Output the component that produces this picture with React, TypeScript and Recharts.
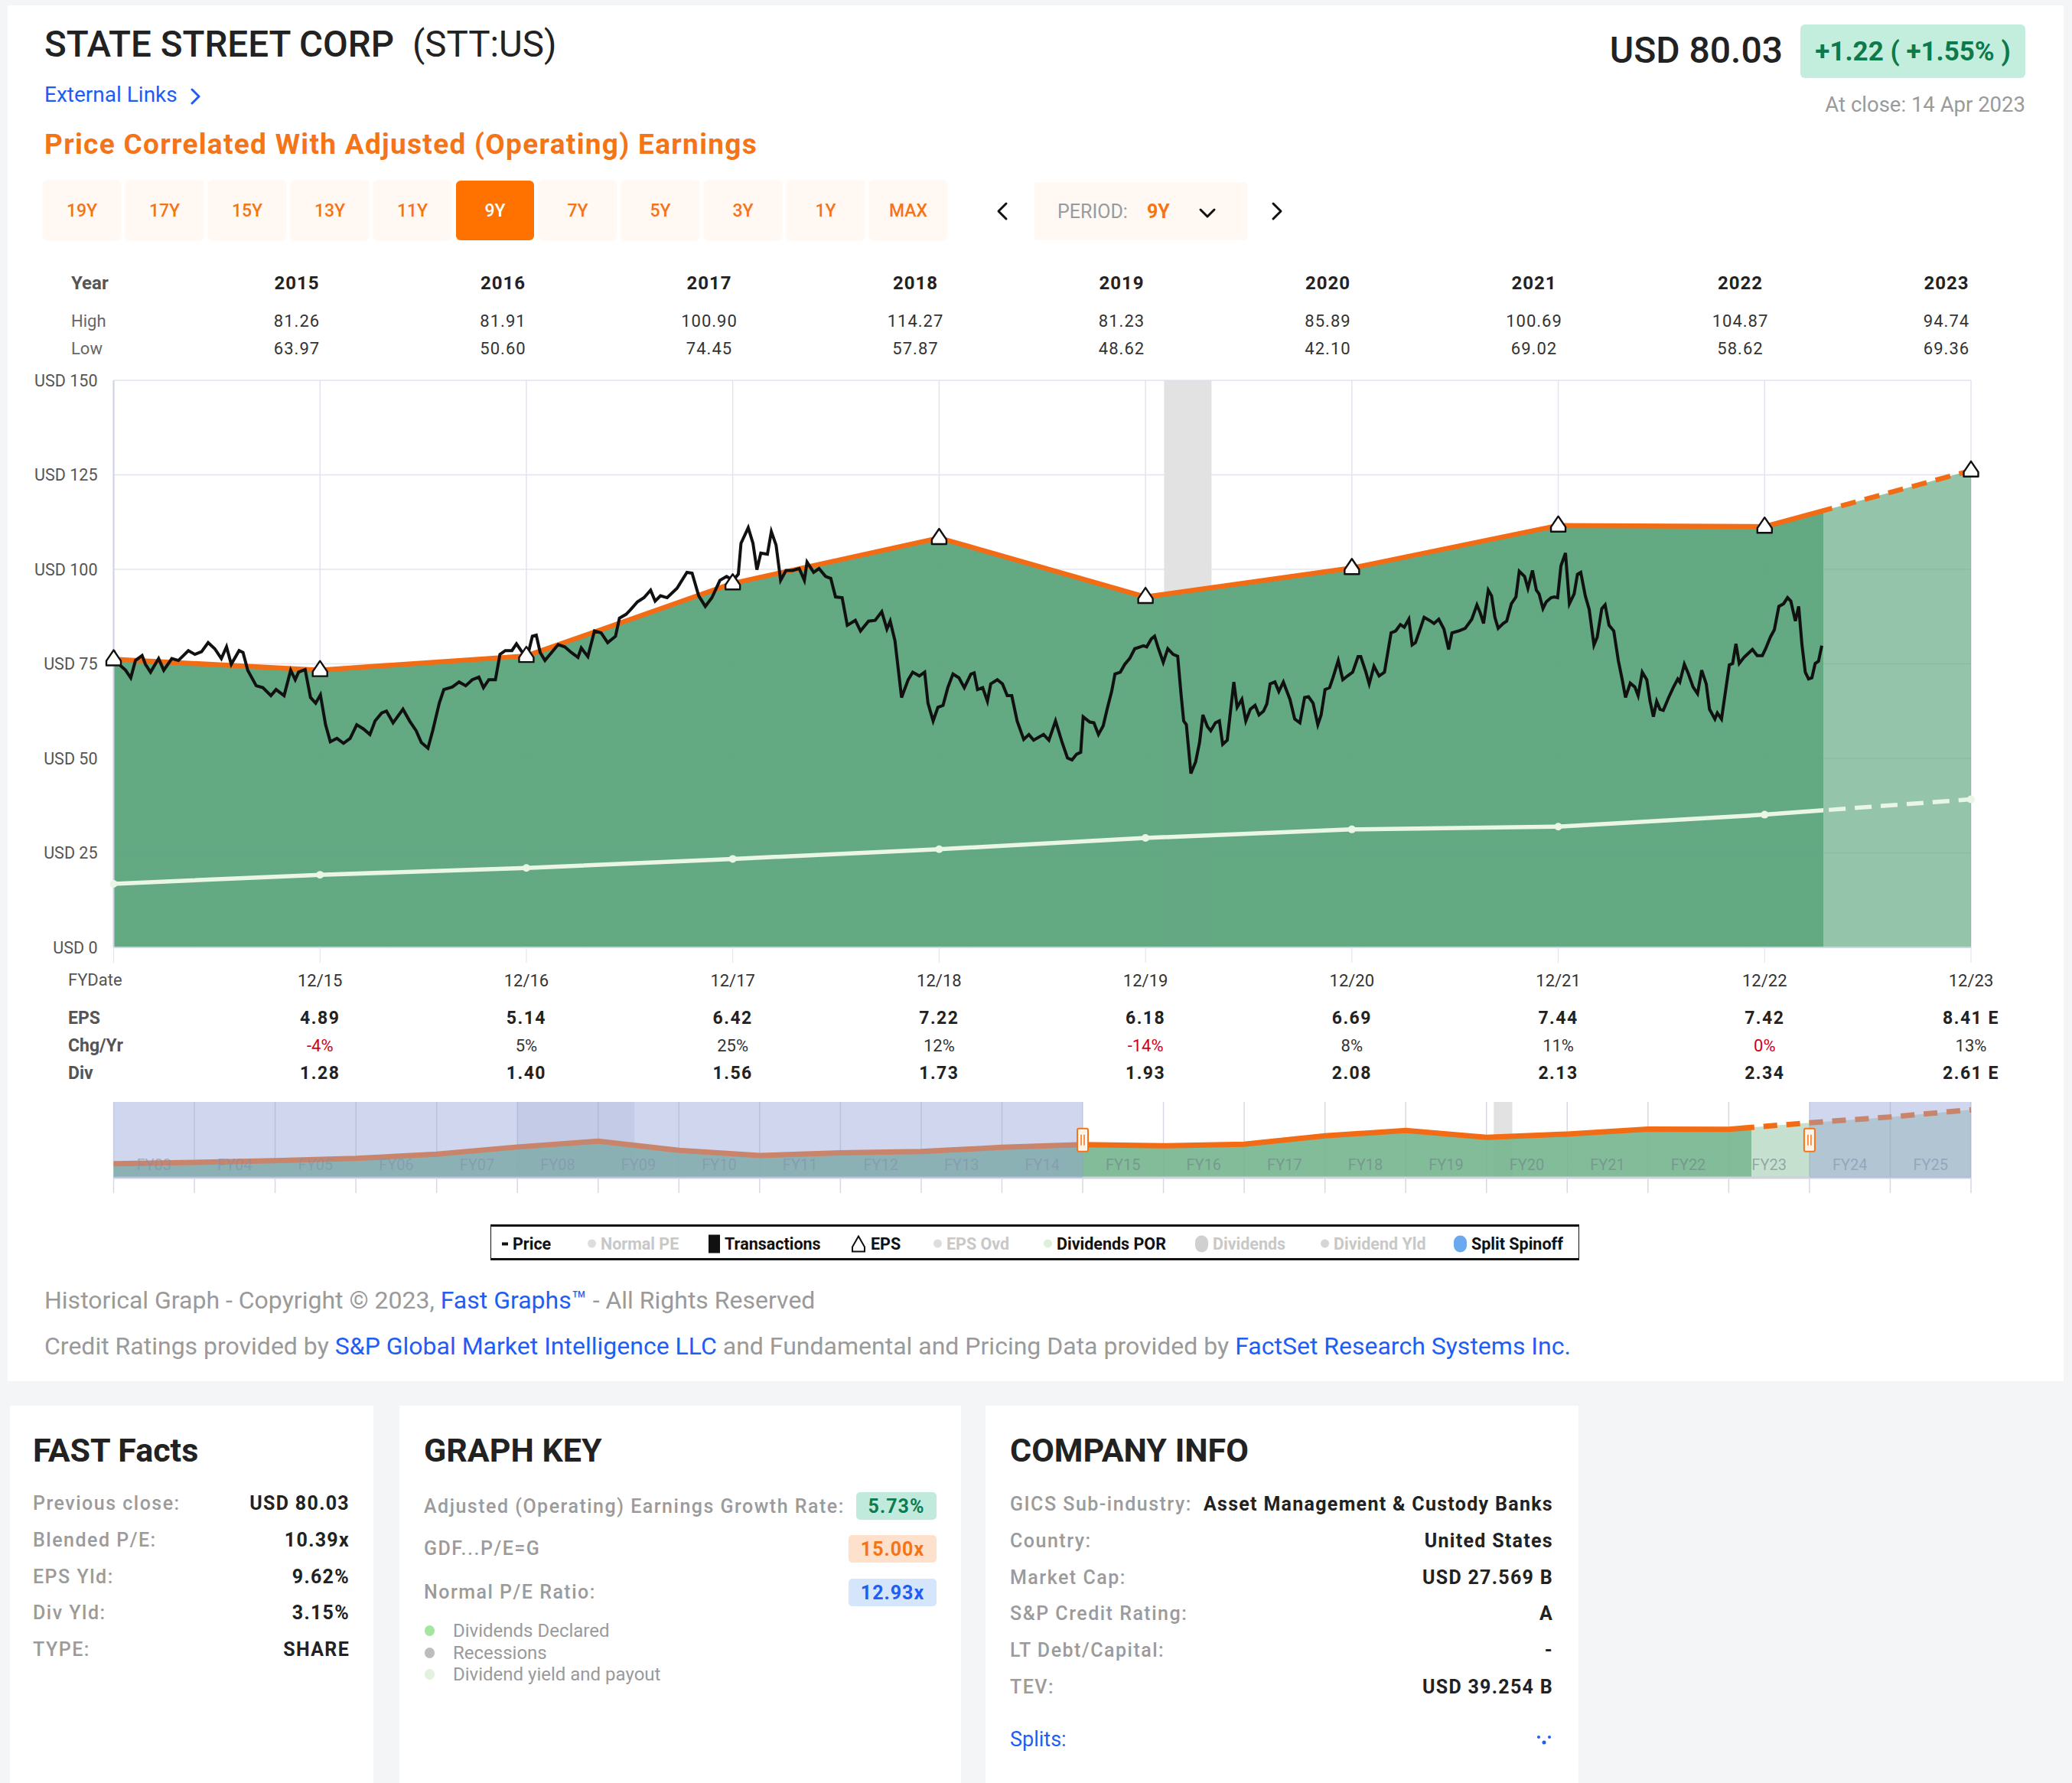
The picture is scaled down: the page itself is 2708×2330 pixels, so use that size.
import React from "react";
import {
  ComposedChart,
  Area,
  Line,
  XAxis,
  YAxis,
  CartesianGrid,
  ReferenceArea,
  ReferenceLine,
} from "recharts";

const FONT = "Roboto, 'Noto Sans', Arial, sans-serif";
const ORANGE = "#f57418";

// fiscal year ends (decimal years: 2015.0 = 31 Dec 2014)
const fyEnds = [2015, 2016, 2017, 2018, 2019, 2020, 2021, 2022, 2023, 2024];
const fyLabels = ["12/14", "12/15", "12/16", "12/17", "12/18", "12/19", "12/20", "12/21", "12/22", "12/23"];
const eps = [5.08, 4.89, 5.14, 6.42, 7.22, 6.18, 6.69, 7.44, 7.42, 8.41];
const chgYr = ["", "-4%", "5%", "25%", "12%", "-14%", "8%", "11%", "0%", "13%"];
const divs = [1.12, 1.28, 1.4, 1.56, 1.73, 1.93, 2.08, 2.13, 2.34, 2.61];
const normalPE = 15;
const closeDate = 2023.285; // 14 Apr 2023
const recession = [2020.09, 2020.32];
const yTicks = [0, 25, 50, 75, 100, 125, 150];

const tableYears = ["2015", "2016", "2017", "2018", "2019", "2020", "2021", "2022", "2023"];
const highs = ["81.26", "81.91", "100.90", "114.27", "81.23", "85.89", "100.69", "104.87", "94.74"];
const lows = ["63.97", "50.60", "74.45", "57.87", "48.62", "42.10", "69.02", "58.62", "69.36"];

const periods = ["19Y", "17Y", "15Y", "13Y", "11Y", "9Y", "7Y", "5Y", "3Y", "1Y", "MAX"];
const activePeriod = "9Y";

// weekly-ish closing prices [date, USD]
const price: [number, number][] = [
  [2015.0, 78.5], [2015.026, 74.9], [2015.058, 73.3], [2015.083, 71.3], [2015.106, 75.9], [2015.138, 77.2],
  [2015.154, 74.9], [2015.179, 72.8], [2015.218, 76.4], [2015.243, 73.3], [2015.282, 76.4], [2015.314, 75.9],
  [2015.362, 78.5], [2015.394, 77.5], [2015.426, 78.2], [2015.458, 80.6], [2015.49, 79.0], [2015.522, 76.4],
  [2015.547, 79.5], [2015.57, 74.9], [2015.608, 78.5], [2015.627, 78.0], [2015.65, 73.3], [2015.691, 69.2],
  [2015.723, 68.7], [2015.762, 66.6], [2015.787, 68.2], [2015.826, 66.6], [2015.858, 73.3], [2015.88, 70.8],
  [2015.896, 72.8], [2015.928, 73.5], [2015.954, 66.1], [2015.979, 64.6], [2016.002, 66.8], [2016.027, 58.9],
  [2016.05, 54.4], [2016.082, 55.3], [2016.114, 54.0], [2016.146, 55.3], [2016.178, 58.9], [2016.21, 57.8],
  [2016.242, 56.3], [2016.267, 59.9], [2016.299, 62.0], [2016.322, 62.5], [2016.354, 59.4], [2016.402, 63.0],
  [2016.434, 59.9], [2016.466, 57.3], [2016.491, 54.2], [2016.523, 52.7], [2016.546, 57.3], [2016.578, 64.6],
  [2016.6, 68.2], [2016.642, 68.9], [2016.674, 70.2], [2016.706, 69.2], [2016.738, 70.8], [2016.77, 71.5],
  [2016.792, 68.7], [2016.818, 70.8], [2016.85, 70.8], [2016.872, 77.5], [2016.898, 78.5], [2016.93, 78.5],
  [2016.952, 80.3], [2016.978, 78.2], [2017.01, 78.0], [2017.029, 82.3], [2017.048, 82.6], [2017.067, 78.0],
  [2017.09, 75.9], [2017.122, 78.0], [2017.154, 80.1], [2017.186, 79.5], [2017.218, 78.0], [2017.25, 76.7],
  [2017.266, 79.2], [2017.298, 76.9], [2017.33, 83.7], [2017.362, 83.2], [2017.394, 80.6], [2017.432, 82.3],
  [2017.451, 87.1], [2017.483, 88.1], [2017.506, 89.4], [2017.538, 91.4], [2017.57, 92.5], [2017.602, 94.5],
  [2017.624, 91.6], [2017.65, 93.0], [2017.682, 92.5], [2017.73, 95.0], [2017.778, 99.2], [2017.803, 99.0],
  [2017.835, 93.0], [2017.867, 90.2], [2017.899, 92.5], [2017.938, 97.1], [2017.97, 98.1], [2018.002, 97.1],
  [2018.027, 98.7], [2018.04, 106.9], [2018.075, 111.0], [2018.098, 106.9], [2018.117, 99.9], [2018.136, 104.3],
  [2018.168, 104.0], [2018.187, 110.0], [2018.21, 106.4], [2018.232, 97.1], [2018.258, 99.7], [2018.29, 99.7],
  [2018.322, 100.2], [2018.347, 97.1], [2018.36, 101.9], [2018.392, 99.2], [2018.418, 100.2], [2018.45, 98.1],
  [2018.475, 97.6], [2018.498, 92.7], [2018.53, 92.5], [2018.555, 85.2], [2018.594, 86.5], [2018.619, 83.7],
  [2018.658, 86.3], [2018.69, 86.5], [2018.722, 88.8], [2018.747, 84.2], [2018.763, 86.3], [2018.786, 81.1],
  [2018.818, 66.1], [2018.85, 70.8], [2018.872, 72.8], [2018.904, 71.8], [2018.93, 72.8], [2018.946, 64.6],
  [2018.971, 59.9], [2018.994, 63.5], [2019.019, 64.0], [2019.042, 68.7], [2019.067, 72.3], [2019.096, 71.3],
  [2019.122, 68.7], [2019.154, 72.3], [2019.17, 72.6], [2019.186, 68.2], [2019.211, 68.7], [2019.234, 65.1],
  [2019.25, 69.7], [2019.282, 70.8], [2019.307, 69.7], [2019.33, 66.6], [2019.352, 66.6], [2019.378, 59.9],
  [2019.41, 55.0], [2019.435, 56.3], [2019.458, 54.8], [2019.506, 56.3], [2019.532, 54.8], [2019.564, 59.9],
  [2019.596, 54.2], [2019.622, 50.1], [2019.644, 49.6], [2019.666, 51.1], [2019.686, 51.6], [2019.698, 61.0],
  [2019.73, 59.6], [2019.75, 59.4], [2019.772, 56.3], [2019.795, 58.6], [2019.814, 63.0], [2019.836, 67.7],
  [2019.852, 72.3], [2019.878, 72.8], [2019.9, 74.9], [2019.923, 76.4], [2019.948, 79.0], [2019.974, 79.5],
  [2019.99, 79.8], [2020.006, 79.5], [2020.028, 81.6], [2020.044, 82.3], [2020.063, 79.0], [2020.086, 75.4],
  [2020.108, 79.0], [2020.134, 77.5], [2020.156, 77.0], [2020.172, 67.1], [2020.185, 59.9], [2020.198, 58.9],
  [2020.22, 46.0], [2020.243, 49.1], [2020.262, 54.2], [2020.278, 61.5], [2020.3, 58.4], [2020.316, 57.3],
  [2020.339, 59.4], [2020.358, 59.9], [2020.374, 53.7], [2020.396, 54.8], [2020.428, 70.2], [2020.444, 63.5],
  [2020.467, 65.6], [2020.486, 59.9], [2020.508, 63.0], [2020.531, 64.0], [2020.55, 61.5], [2020.572, 62.5],
  [2020.588, 64.4], [2020.604, 69.7], [2020.627, 70.2], [2020.646, 67.7], [2020.668, 70.2], [2020.7, 65.6],
  [2020.723, 60.4], [2020.748, 59.4], [2020.771, 66.1], [2020.79, 66.3], [2020.812, 64.6], [2020.835, 58.9],
  [2020.851, 61.5], [2020.87, 68.2], [2020.892, 68.7], [2020.908, 71.3], [2020.934, 75.9], [2020.956, 70.8],
  [2020.979, 71.8], [2021.004, 72.8], [2021.03, 76.9], [2021.043, 76.9], [2021.068, 72.8], [2021.084, 69.7],
  [2021.107, 74.4], [2021.132, 71.8], [2021.158, 72.8], [2021.19, 83.2], [2021.212, 83.7], [2021.235, 85.4],
  [2021.254, 84.7], [2021.276, 86.8], [2021.292, 80.0], [2021.308, 80.6], [2021.334, 84.7], [2021.35, 87.3],
  [2021.376, 86.5], [2021.398, 85.7], [2021.421, 86.8], [2021.446, 84.2], [2021.469, 78.8], [2021.485, 83.2],
  [2021.517, 83.7], [2021.549, 84.4], [2021.581, 86.8], [2021.606, 90.6], [2021.622, 88.5], [2021.638, 85.7],
  [2021.661, 94.5], [2021.677, 93.0], [2021.693, 87.3], [2021.709, 84.4], [2021.734, 85.7], [2021.75, 86.3],
  [2021.773, 90.9], [2021.795, 92.7], [2021.811, 99.5], [2021.837, 98.1], [2021.853, 95.0], [2021.875, 99.7],
  [2021.894, 94.5], [2021.907, 93.5], [2021.926, 89.6], [2021.942, 91.4], [2021.965, 92.5], [2021.981, 92.7],
  [2021.997, 92.5], [2022.013, 100.9], [2022.035, 104.3], [2022.054, 90.9], [2022.077, 93.5], [2022.093, 98.7],
  [2022.109, 99.2], [2022.131, 93.0], [2022.15, 89.4], [2022.173, 80.0], [2022.189, 82.1], [2022.211, 89.6],
  [2022.227, 90.6], [2022.246, 85.2], [2022.269, 83.7], [2022.291, 75.9], [2022.31, 70.8], [2022.326, 66.1],
  [2022.349, 69.9], [2022.371, 68.9], [2022.387, 66.6], [2022.407, 72.8], [2022.429, 70.8], [2022.445, 65.1],
  [2022.461, 61.0], [2022.477, 65.1], [2022.493, 63.0], [2022.509, 62.7], [2022.535, 66.1], [2022.557, 68.7],
  [2022.579, 71.0], [2022.589, 70.2], [2022.611, 74.9], [2022.631, 72.3], [2022.653, 68.9], [2022.675, 67.1],
  [2022.695, 73.3], [2022.717, 69.7], [2022.733, 63.0], [2022.759, 60.4], [2022.771, 62.0], [2022.791, 60.4],
  [2022.813, 68.7], [2022.829, 74.7], [2022.845, 75.1], [2022.861, 80.3], [2022.877, 75.1], [2022.9, 76.7],
  [2022.925, 78.0], [2022.941, 78.8], [2022.964, 77.2], [2022.989, 77.2], [2023.005, 79.0], [2023.028, 82.1],
  [2023.047, 84.0], [2023.069, 90.2], [2023.092, 90.9], [2023.111, 92.5], [2023.127, 91.6], [2023.149, 86.3],
  [2023.165, 90.2], [2023.181, 80.0], [2023.197, 72.8], [2023.213, 71.0], [2023.229, 71.3], [2023.245, 75.1],
  [2023.261, 75.7], [2023.277, 79.8],
];

// navigator (FY02 .. FY25 year ends)
const navFyEnds = [2003, 2004, 2005, 2006, 2007, 2008, 2009, 2010, 2011, 2012, 2013, 2014, 2015, 2016, 2017, 2018, 2019, 2020, 2021, 2022, 2023, 2024, 2025, 2026];
const navEps = [2.15, 2.35, 2.6, 2.95, 3.6, 4.7, 5.6, 4.2, 3.4, 3.8, 4.0, 4.65, 5.08, 4.89, 5.14, 6.42, 7.22, 6.18, 6.69, 7.44, 7.42, 8.41, 9.3, 10.4];
const navLabelPos = [2003.5, 2004.5, 2005.5, 2006.5, 2007.5, 2008.5, 2009.5, 2010.5, 2011.5, 2012.5, 2013.5, 2014.5, 2015.5, 2016.5, 2017.5, 2018.5, 2019.5, 2020.5, 2021.5, 2022.5, 2023.5, 2024.5, 2025.5];
const navLabels = ["FY03", "FY04", "FY05", "FY06", "FY07", "FY08", "FY09", "FY10", "FY11", "FY12", "FY13", "FY14", "FY15", "FY16", "FY17", "FY18", "FY19", "FY20", "FY21", "FY22", "FY23", "FY24", "FY25"];
const navRecession = [2008.0, 2009.45];

const epsData = fyEnds.map((x, i) => ({ x, epsPrice: eps[i] * normalPE, divLine: divs[i] * normalPE }));
const priceData = price.map(([x, v]) => ({ x, v }));
const navData = navFyEnds.map((x, i) => ({ x, epsPrice: navEps[i] * normalPE }));

const pct = (v: number, a: number, b: number) => (((v - a) / (b - a)) * 100).toFixed(3) + "%";
const mainSplit = pct(closeDate, fyEnds[0], fyEnds[fyEnds.length - 1]);
const navSplit = pct(closeDate, navFyEnds[0], navFyEnds[navFyEnds.length - 1]);

function T({ x, y, size, weight = 400, color = "#222", align = "left", ls = 0, children }: any) {
  const tx = align === "right" ? "-100%" : align === "center" ? "-50%" : "0";
  return (
    <div
      style={{
        position: "absolute",
        left: x,
        top: y,
        transform: `translate(${tx}, -50%)`,
        fontSize: size,
        fontWeight: weight,
        color,
        whiteSpace: "nowrap",
        lineHeight: 1,
        letterSpacing: ls,
      }}
    >
      {children}
    </div>
  );
}

function Chevron({ x, y, dir, color = "#111", size = 10 }: any) {
  const d =
    dir === "left" ? `M${size},0 L0,${size} L${size},${size * 2}`
    : dir === "right" ? `M0,0 L${size},${size} L0,${size * 2}`
    : `M0,0 L${size},${size} L${size * 2},0`;
  const w = dir === "down" ? size * 2 : size;
  const h = dir === "down" ? size : size * 2;
  return (
    <svg style={{ position: "absolute", left: x - w / 2, top: y - h / 2, overflow: "visible" }} width={w} height={h}>
      <path d={d} fill="none" stroke={color} strokeWidth={3} strokeLinecap="round" strokeLinejoin="round" />
    </svg>
  );
}

function GradStops({ id, color, split, a, b }: any) {
  return (
    <linearGradient id={id} x1="0" y1="0" x2="1" y2="0">
      <stop offset="0%" stopColor={color} stopOpacity={a} />
      <stop offset={split} stopColor={color} stopOpacity={a} />
      <stop offset={split} stopColor={color} stopOpacity={b} />
      <stop offset="100%" stopColor={color} stopOpacity={b} />
    </linearGradient>
  );
}

function MainTick(props: any) {
  const { x, y, payload } = props;
  const i = fyEnds.indexOf(payload.value);
  if (i <= 0) return <g />;
  const est = fyEnds[i] > closeDate ? " E" : "";
  const chg = chgYr[i];
  const red = chg.startsWith("-") || chg === "0%";
  return (
    <g fontFamily={FONT}>
      <text x={x} y={y + 23} textAnchor="middle" dominantBaseline="central" fontSize={22} fill="#333">
        {fyLabels[i]}
      </text>
      <text x={x} y={y + 72} textAnchor="middle" dominantBaseline="central" fontSize={23} fontWeight={700} fill="#222" letterSpacing={1.5}>
        {eps[i].toFixed(2) + est}
      </text>
      <text x={x} y={y + 108} textAnchor="middle" dominantBaseline="central" fontSize={22} fill={red ? "#d0021b" : "#333"}>
        {chg}
      </text>
      <text x={x} y={y + 144} textAnchor="middle" dominantBaseline="central" fontSize={23} fontWeight={700} fill="#222" letterSpacing={1.5}>
        {divs[i].toFixed(2) + est}
      </text>
    </g>
  );
}

function EpsMarker(props: any) {
  const { cx, cy, index } = props;
  if (cx == null || cy == null) return <g key={index} />;
  const d = `M${cx},${cy - 12} L${cx + 9.5},${cy + 2} L${cx + 9.5},${cy + 8} L${cx - 9.5},${cy + 8} L${cx - 9.5},${cy + 2} Z`;
  return <path key={index} d={d} fill="#fff" stroke="#111" strokeWidth={2.4} strokeLinejoin="round" />;
}

function NavLabel({ viewBox, text }: any) {
  if (!viewBox) return null;
  const { x, y, height } = viewBox;
  return (
    <text x={x} y={y + height - 17} textAnchor="middle" dominantBaseline="central" fontSize={20} fill="#6f8088"
      fillOpacity={0.6} fontFamily={FONT}>
      {text}
    </text>
  );
}

function Handle(props: any) {
  const { viewBox } = props;
  if (!viewBox) return null;
  const { x, y, height } = viewBox;
  const top = y + height * 0.35;
  return (
    <g>
      <rect x={x - 7} y={top} width={14} height={30} rx={2} fill="#fff4ea" stroke={ORANGE} strokeWidth={2} />
      <line x1={x - 2} x2={x - 2} y1={top + 8} y2={top + 22} stroke={ORANGE} strokeWidth={1.5} />
      <line x1={x + 2} x2={x + 2} y1={top + 8} y2={top + 22} stroke={ORANGE} strokeWidth={1.5} />
    </g>
  );
}

const legendItems = [
  { label: "Price", kind: "dash", color: "#111", text: "#111" },
  { label: "Normal PE", kind: "dot", color: "#ddd", text: "#c8c8c8" },
  { label: "Transactions", kind: "square", color: "#111", text: "#111" },
  { label: "EPS", kind: "tri", color: "#111", text: "#111" },
  { label: "EPS Ovd", kind: "dot", color: "#ddd", text: "#c8c8c8" },
  { label: "Dividends POR", kind: "dot", color: "#dff0d8", text: "#111" },
  { label: "Dividends", kind: "circle", color: "#d0d0d0", text: "#c8c8c8" },
  { label: "Dividend Yld", kind: "dot", color: "#d6d6d6", text: "#c8c8c8" },
  { label: "Split Spinoff", kind: "circle", color: "#6aa9ef", text: "#111" },
];
const legendX = [656, 768, 926, 1112, 1220, 1364, 1562, 1726, 1900];

function LegendMarker({ kind, color }: any) {
  if (kind === "dash") return <div style={{ width: 8, height: 4, background: color }} />;
  if (kind === "square") return <div style={{ width: 15, height: 24, background: color }} />;
  if (kind === "tri")
    return (
      <svg width={20} height={24}>
        <path d="M10,2 L18,16 L18,22 L2,22 L2,16 Z" fill="#fff" stroke="#111" strokeWidth={2} />
      </svg>
    );
  if (kind === "circle") return <div style={{ width: 17, height: 22, borderRadius: 9, background: color }} />;
  return <div style={{ width: 11, height: 11, borderRadius: 6, background: color }} />;
}

const factLabels = ["Previous close:", "Blended P/E:", "EPS Yld:", "Div Yld:", "TYPE:"];
const factValues = ["USD 80.03", "10.39x", "9.62%", "3.15%", "SHARE"];
const infoLabels = ["GICS Sub-industry:", "Country:", "Market Cap:", "S&P Credit Rating:", "LT Debt/Capital:", "TEV:"];
const infoValues = ["Asset Management & Custody Banks", "United States", "USD 27.569 B", "A", "-", "USD 39.254 B"];

export default function App() {
  return (
    <div
      style={{
        position: "absolute",
        left: 0,
        top: 0,
        width: 2708,
        height: 2330,
        background: "#f4f5f7",
        fontFamily: FONT,
        overflow: "hidden",
      }}
    >
      {/* main white card */}
      <div style={{ position: "absolute", left: 10, top: 7, width: 2687, height: 1798, background: "#fff" }} />

      {/* header */}
      <T x={58} y={59} size={47.5} weight={500} color="#222">STATE STREET CORP</T>
      <T x={539} y={59} size={47.5} weight={400} color="#222">(STT:US)</T>
      <T x={58} y={124} size={28} color="#1d5cf5">External Links</T>
      <Chevron x={255} y={126} dir="right" color="#1d5cf5" size={9} />
      <T x={58} y={188} size={37} weight={700} color={ORANGE} ls={1.3}>
        Price Correlated With Adjusted (Operating) Earnings
      </T>

      {periods.map((p, i) => {
        const on = p === activePeriod;
        return (
          <div
            key={p}
            style={{
              position: "absolute",
              left: 56 + i * 108,
              top: 236,
              width: 102,
              height: 78,
              borderRadius: 6,
              background: on ? "#ff7200" : "#fff8f3",
              color: on ? "#fff" : ORANGE,
              fontSize: 23,
              fontWeight: 500,
              display: "flex",
              alignItems: "center",
              justifyContent: "center",
              boxShadow: on ? "none" : "0 0 3px rgba(240,120,30,0.08)",
            }}
          >
            {p}
          </div>
        );
      })}
      <Chevron x={1310} y={276} dir="left" size={10} />
      <div style={{ position: "absolute", left: 1352, top: 238, width: 278, height: 76, background: "#fff8f3", borderRadius: 4 }} />
      <T x={1382} y={276} size={25} color="#9a9a9a">PERIOD:</T>
      <T x={1499} y={276} size={25} weight={700} color={ORANGE}>9Y</T>
      <Chevron x={1578} y={278} dir="down" size={9} />
      <Chevron x={1669} y={276} dir="right" size={10} />

      <T x={2330} y={66} size={48} weight={500} color="#222" align="right">USD 80.03</T>
      <div
        style={{
          position: "absolute",
          left: 2353,
          top: 32,
          width: 294,
          height: 70,
          borderRadius: 6,
          background: "#c3eede",
          color: "#0c7a4b",
          fontSize: 35,
          fontWeight: 700,
          display: "flex",
          alignItems: "center",
          justifyContent: "center",
          whiteSpace: "nowrap",
        }}
      >
        +1.22 ( +1.55% )
      </div>
      <T x={2647} y={137} size={27.5} color="#9a9a9a" align="right">At close: 14 Apr 2023</T>

      {/* year high / low table */}
      <T x={93} y={370} size={24} weight={700} color="#555">Year</T>
      <T x={93} y={420} size={22} color="#666">High</T>
      <T x={93} y={456} size={22} color="#666">Low</T>
      {tableYears.map((yr, i) => (
        <React.Fragment key={yr}>
          <T x={388 + i * 269.5} y={370} size={24} weight={700} color="#222" align="center" ls={1}>{yr}</T>
          <T x={388 + i * 269.5} y={420} size={22} color="#333" align="center" ls={1}>{highs[i]}</T>
          <T x={388 + i * 269.5} y={456} size={22} color="#333" align="center" ls={1}>{lows[i]}</T>
        </React.Fragment>
      ))}

      {/* main chart */}
      <div style={{ position: "absolute", left: 0, top: 0 }}>
        <ComposedChart width={2708} height={1430} margin={{ top: 497, right: 132, bottom: 0, left: 0 }}>
          <defs>
            <GradStops id="mainArea" color="#5ea67e" split={mainSplit} a={0.97} b={0.66} />
            <GradStops id="epsSolid" color="#f26b15" split={mainSplit} a={1} b={0} />
            <GradStops id="epsDash" color="#f26b15" split={mainSplit} a={0} b={1} />
            <GradStops id="divSolid" color="#eaf6e5" split={mainSplit} a={1} b={0} />
            <GradStops id="divDash" color="#eaf6e5" split={mainSplit} a={0} b={1} />
          </defs>
          <CartesianGrid stroke="#e2e4ef" strokeWidth={1.5} />
          <XAxis
            dataKey="x"
            type="number"
            domain={[fyEnds[0], fyEnds[fyEnds.length - 1]]}
            ticks={fyEnds}
            interval={0}
            height={192}
            tickSize={20}
            tickMargin={0}
            tickLine={{ stroke: "#dfe1ec" }}
            axisLine={{ stroke: "#cfd2e2", strokeWidth: 2 }}
            tick={<MainTick />}
          />
          <YAxis
            type="number"
            domain={[0, 150]}
            ticks={yTicks}
            width={148.5}
            tickSize={0}
            tickMargin={21}
            tickLine={false}
            axisLine={{ stroke: "#cfd2e2", strokeWidth: 2 }}
            tickFormatter={(v) => `USD ${v}`}
            tick={{ fontSize: 21.5, fill: "#555", fontFamily: FONT }}
          />
          <ReferenceArea
            x1={recession[0]}
            x2={recession[1]}
            y1={0}
            y2={150}
            fill="#e2e2e2"
            fillOpacity={1}
            stroke="none"
            zIndex={50}
          />
          <Area
            data={epsData}
            dataKey="epsPrice"
            type="linear"
            fill="url(#mainArea)"
            fillOpacity={1}
            stroke="none"
            isAnimationActive={false}
          />
          <Line data={epsData} dataKey="divLine" type="linear" stroke="url(#divSolid)" strokeWidth={5.5}
            dot={{ r: 5, fill: "#eaf6e5", stroke: "none" }} isAnimationActive={false} />
          <Line data={epsData} dataKey="divLine" type="linear" stroke="url(#divDash)" strokeWidth={5.5}
            strokeDasharray="22 12" dot={false} isAnimationActive={false} />
          <Line data={epsData} dataKey="epsPrice" type="linear" stroke="url(#epsSolid)" strokeWidth={6.5}
            dot={false} isAnimationActive={false} />
          <Line data={epsData} dataKey="epsPrice" type="linear" stroke="url(#epsDash)" strokeWidth={6.5}
            strokeDasharray="20 12" dot={false} isAnimationActive={false} />
          <Line data={priceData} dataKey="v" type="linear" stroke="#111" strokeWidth={4}
            dot={false} isAnimationActive={false} />
          <Line data={epsData} dataKey="epsPrice" type="linear" stroke="none" dot={EpsMarker} isAnimationActive={false} />
        </ComposedChart>
      </div>

      <T x={89} y={1281} size={22} color="#555">FYDate</T>
      <T x={89} y={1330} size={23} weight={700} color="#555">EPS</T>
      <T x={89} y={1366} size={23} weight={700} color="#555">Chg/Yr</T>
      <T x={89} y={1402} size={23} weight={700} color="#555">Div</T>

      {/* navigator */}
      <div style={{ position: "absolute", left: 0, top: 1400 }}>
        <ComposedChart width={2708} height={200} margin={{ top: 40, right: 132, bottom: 0, left: 148.5 }}>
          <defs>
            <GradStops id="navArea" color="#78b690" split={navSplit} a={0.92} b={0.42} />
            <GradStops id="navSolid" color="#f26b15" split={navSplit} a={1} b={0} />
            <GradStops id="navDash" color="#f26b15" split={navSplit} a={0} b={1} />
          </defs>
          <CartesianGrid stroke="#d6d9e4" strokeWidth={1.5} horizontal={false} />
          <XAxis
            dataKey="x"
            type="number"
            domain={[navFyEnds[0], navFyEnds[navFyEnds.length - 1]]}
            ticks={navFyEnds}
            interval={0}
            height={61}
            tickSize={20}
            tickLine={{ stroke: "#d6d9e4", strokeWidth: 1.5 }}
            axisLine={{ stroke: "#cfd2dc", strokeWidth: 3 }}
            tick={() => <g />}
          />
          <YAxis hide type="number" domain={[0, 174]} />
          <ReferenceArea x1={navRecession[0]} x2={navRecession[1]} fill="#7d88ad" fillOpacity={0.16} stroke="none" zIndex={50} />
          <ReferenceArea x1={recession[0]} x2={recession[1]} fill="#e2e2e2" fillOpacity={1} stroke="none" zIndex={50} />
          <Area data={navData} dataKey="epsPrice" type="linear" fill="url(#navArea)" fillOpacity={1} stroke="none"
            isAnimationActive={false} />
          <Line data={navData} dataKey="epsPrice" type="linear" stroke="url(#navSolid)" strokeWidth={7}
            dot={false} isAnimationActive={false} />
          <Line data={navData} dataKey="epsPrice" type="linear" stroke="url(#navDash)" strokeWidth={7}
            strokeDasharray="18 12" dot={false} isAnimationActive={false} />
          {navLabelPos.map((p, i) => (
            <ReferenceLine key={p} x={p} stroke="none" label={<NavLabel text={navLabels[i]} />} zIndex={800} />
          ))}
          <ReferenceArea x1={navFyEnds[0]} x2={fyEnds[0]} fill="#96a5d8" fillOpacity={0.45} stroke="none" zIndex={900} />
          <ReferenceArea x1={fyEnds[fyEnds.length - 1]} x2={navFyEnds[navFyEnds.length - 1]} fill="#96a5d8" fillOpacity={0.45}
            stroke="none" zIndex={900} />
          <ReferenceLine x={fyEnds[0]} stroke="none" label={<Handle />} zIndex={1000} />
          <ReferenceLine x={fyEnds[fyEnds.length - 1]} stroke="none" label={<Handle />} zIndex={1000} />
        </ComposedChart>
      </div>

      {/* legend */}
      <div
        style={{
          position: "absolute",
          left: 641,
          top: 1600,
          width: 1423,
          height: 47,
          boxSizing: "border-box",
          borderLeft: "1.5px solid #111",
          borderRight: "1.5px solid #111",
          borderTop: "3px solid #111",
          borderBottom: "3px solid #111",
        }}
      />
      {legendItems.map((it, i) => (
        <div
          key={it.label}
          style={{
            position: "absolute",
            left: legendX[i],
            top: 1625,
            transform: "translateY(-50%)",
            display: "flex",
            alignItems: "center",
            gap: 6,
            fontSize: 21.5,
            fontWeight: 700,
            color: it.text,
            whiteSpace: "nowrap",
          }}
        >
          <LegendMarker kind={it.kind} color={it.color} />
          <span>{it.label}</span>
        </div>
      ))}

      {/* copyright */}
      <T x={58} y={1699} size={32} color="#9a9a9a">
        Historical Graph - Copyright © 2023, <span style={{ color: "#1f5ef5" }}>Fast Graphs™</span> - All Rights Reserved
      </T>
      <T x={58} y={1759} size={32} color="#9a9a9a">
        Credit Ratings provided by <span style={{ color: "#1f5ef5" }}>S&amp;P Global Market Intelligence LLC</span> and
        Fundamental and Pricing Data provided by <span style={{ color: "#1f5ef5" }}>FactSet Research Systems Inc.</span>
      </T>

      {/* bottom cards */}
      <div style={{ position: "absolute", left: 13, top: 1837, width: 475, height: 493, background: "#fff" }} />
      <div style={{ position: "absolute", left: 522, top: 1837, width: 734, height: 493, background: "#fff" }} />
      <div style={{ position: "absolute", left: 1288, top: 1837, width: 775, height: 493, background: "#fff" }} />

      <T x={43} y={1895} size={43} weight={700} color="#222">FAST Facts</T>
      {factLabels.map((l, i) => (
        <React.Fragment key={l}>
          <T x={43} y={1964 + i * 47.8} size={25} weight={500} color="#9b9b9b" ls={1.5}>{l}</T>
          <T x={457} y={1964 + i * 47.8} size={25} weight={700} color="#222" align="right" ls={1.3}>{factValues[i]}</T>
        </React.Fragment>
      ))}

      <T x={554} y={1895} size={43} weight={700} color="#222">GRAPH KEY</T>
      <T x={554} y={1968} size={25} weight={500} color="#9b9b9b" ls={1.5}>Adjusted (Operating) Earnings Growth Rate:</T>
      <T x={554} y={2023} size={25} weight={500} color="#9b9b9b" ls={1.5}>GDF...P/E=G</T>
      <T x={554} y={2080} size={25} weight={500} color="#9b9b9b" ls={1.5}>Normal P/E Ratio:</T>
      {[
        { t: "5.73%", top: 1950, left: 1119, bg: "#c0ebdc", c: "#0c7a55" },
        { t: "15.00x", top: 2006, left: 1109, bg: "#fde1cc", c: ORANGE },
        { t: "12.93x", top: 2063, left: 1109, bg: "#d5e5fb", c: "#1f5ef5" },
      ].map((b) => (
        <div
          key={b.t}
          style={{
            position: "absolute",
            left: b.left,
            top: b.top,
            width: 1224 - b.left,
            height: 36,
            borderRadius: 5,
            background: b.bg,
            color: b.c,
            fontSize: 25,
            fontWeight: 700,
            letterSpacing: 1,
            display: "flex",
            alignItems: "center",
            justifyContent: "center",
          }}
        >
          {b.t}
        </div>
      ))}
      {[
        { t: "Dividends Declared", y: 2131, c: "#a4e5a0" },
        { t: "Recessions", y: 2160, c: "#bdbdbd" },
        { t: "Dividend yield and payout", y: 2188, c: "#e3f1df" },
      ].map((d) => (
        <React.Fragment key={d.t}>
          <div style={{ position: "absolute", left: 555, top: d.y - 7, width: 13, height: 14, borderRadius: 7, background: d.c }} />
          <T x={592} y={d.y} size={24} color="#9a9a9a">{d.t}</T>
        </React.Fragment>
      ))}

      <T x={1320} y={1895} size={43} weight={700} color="#222">COMPANY INFO</T>
      {infoLabels.map((l, i) => (
        <React.Fragment key={l}>
          <T x={1320} y={1965 + i * 47.8} size={25} weight={500} color="#9b9b9b" ls={1.5}>{l}</T>
          <T x={2030} y={1965 + i * 47.8} size={25} weight={700} color="#222" align="right" ls={1.3}>{infoValues[i]}</T>
        </React.Fragment>
      ))}
      <T x={1320} y={2273} size={27} color="#1f5ef5">Splits:</T>
      <svg style={{ position: "absolute", left: 2008, top: 2266 }} width={20} height={16}>
        <circle cx={3} cy={4} r={2} fill="#1f5ef5" />
        <circle cx={17} cy={4} r={2} fill="#1f5ef5" />
        <circle cx={10} cy={11} r={2.5} fill="#1f5ef5" />
      </svg>
    </div>
  );
}
